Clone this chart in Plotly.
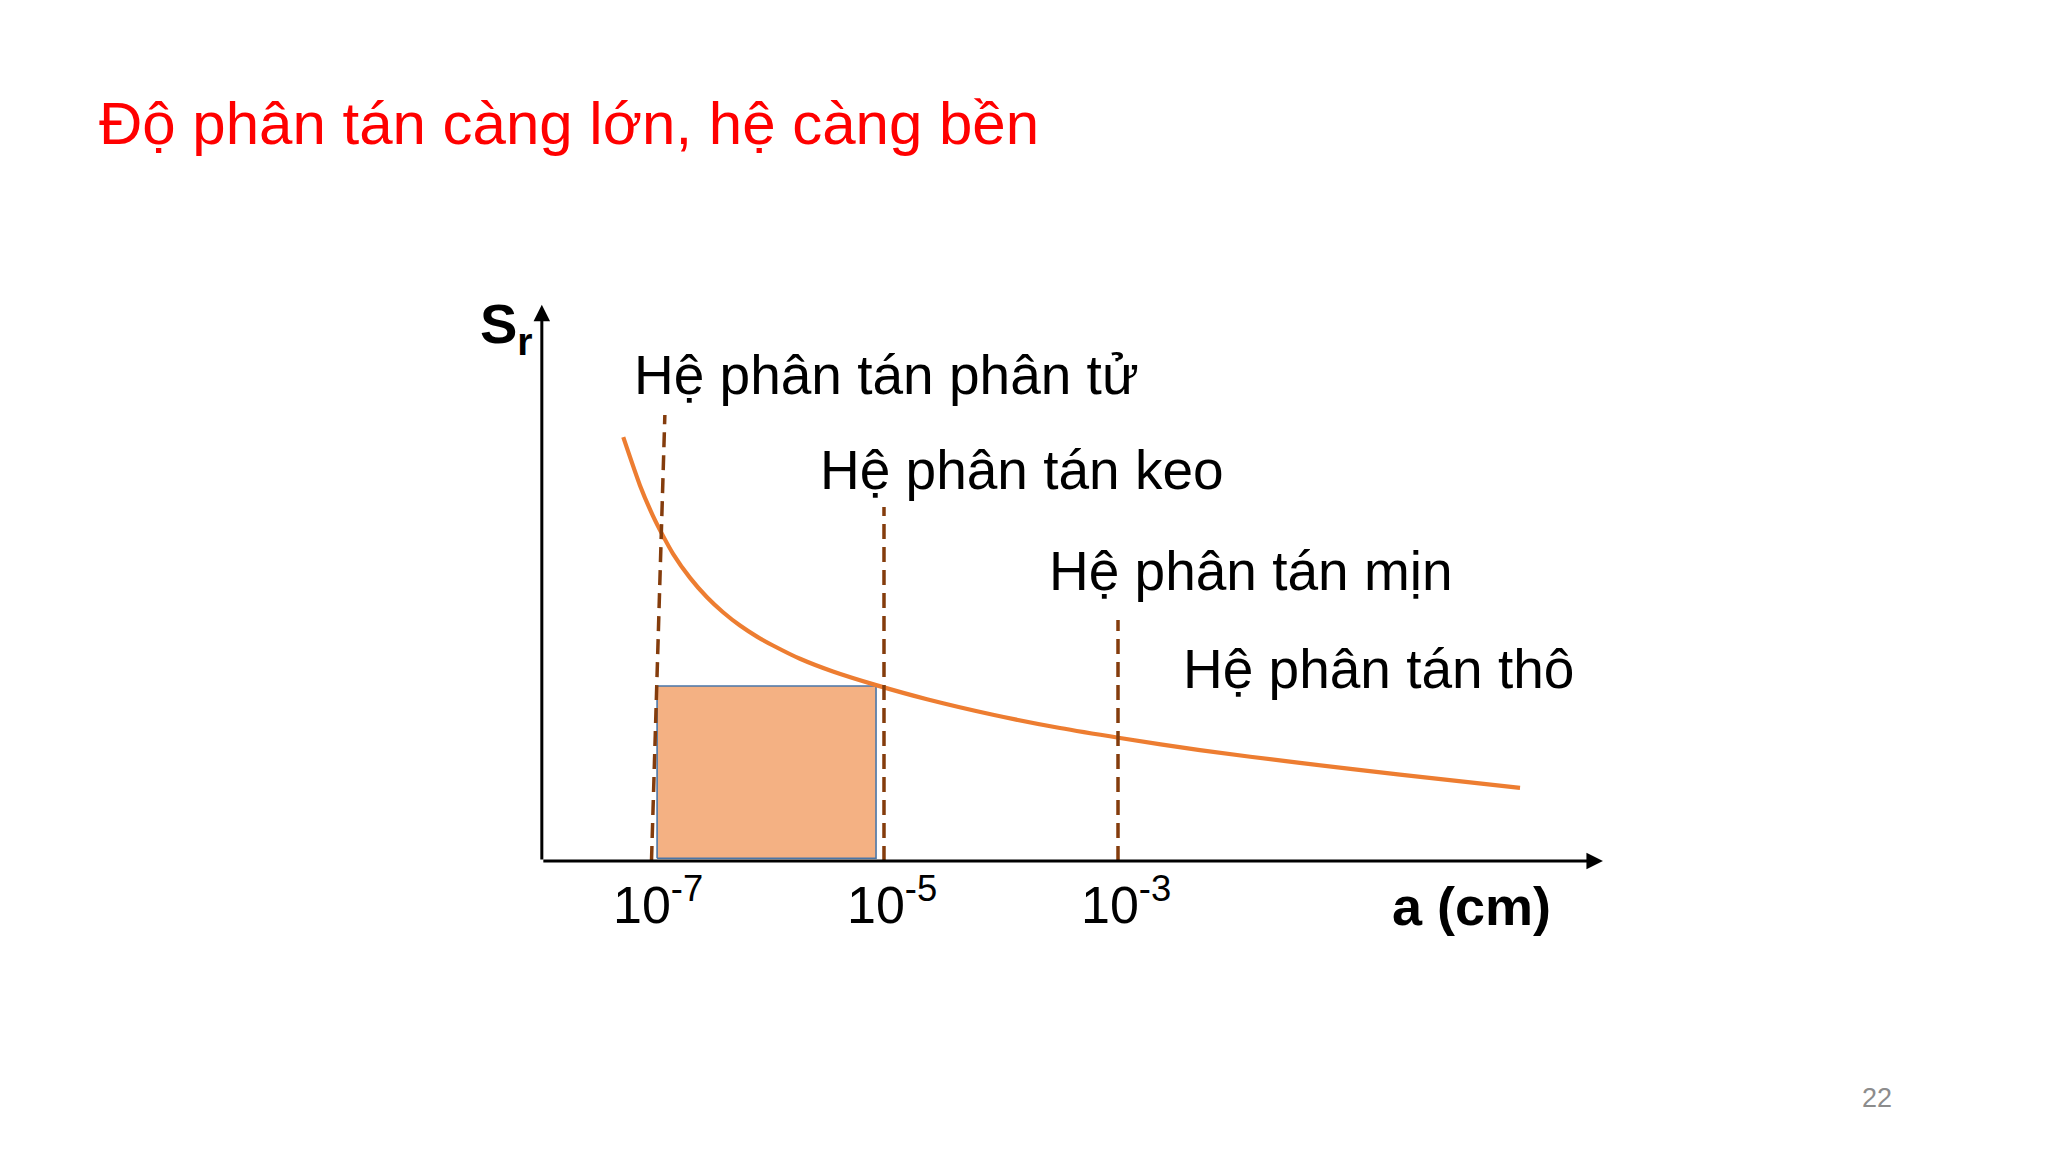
import numpy as np
import plotly.graph_objects as go

# ---------------- data ----------------
title_text = "Độ phân tán càng lớn, hệ càng bền"
page_number = "22"

# curve Sr(a): particle size a in cm, Sr in arbitrary units
curve_a_cm = [5.91e-8, 8.21e-8, 1.06e-7, 1.27e-7, 1.57e-7, 2.20e-7, 3.07e-7,
              4.21e-7, 5.88e-7, 8.21e-7, 1.125e-6, 1.915e-6, 3.66e-6, 8.71e-6,
              2.33e-5, 8.54e-5, 3.19e-4, 1.04e-3, 5.01e-3, 3.59e-2, 0.257, 2.73]
curve_sr = [7.65, 6.78, 6.23, 5.90, 5.55, 5.11, 4.76,
            4.49, 4.25, 4.05, 3.89, 3.65, 3.42, 3.17,
            2.92, 2.64, 2.40, 2.22, 2.00, 1.77, 1.56, 1.32]

# dashed boundaries between dispersion classes
boundary_bottom_a_cm = [1.03e-7, 1.0e-5, 1.0e-3]
boundary_top_a_cm = [1.34e-7, 1.0e-5, 1.0e-3]
boundary_top_sr = [8.05, 6.39, 4.35]

# highlighted (colloid) box
highlight_a_cm = [1.15e-7, 8.55e-6]
highlight_sr = [0.05, 3.16]

# tick labels on the a axis
tick_a_cm = [1e-7, 1e-5, 1e-3]
tick_labels = ["10<sup>-7</sup>", "10<sup>-5</sup>", "10<sup>-3</sup>"]

# region labels: text, left a (cm), Sr
region_labels = ["Hệ phân tán phân tử", "Hệ phân tán keo", "Hệ phân tán mịn", "Hệ phân tán thô"]
region_label_a_cm = [7.0e-8, 2.73e-6, 2.47e-4, 3.45e-3]
region_label_sr = [8.77, 7.06, 5.23, 3.47]

# axes extents
axis_origin_a_cm = 1.19e-8
axis_end_a_cm = 13.96
axis_end_sr = 10.04

# ---------------- figure ----------------
FONT = "Liberation Sans, Arial, sans-serif"
lg = np.log10

fig = go.Figure()

# highlighted box
x0, x1 = lg(highlight_a_cm[0]), lg(highlight_a_cm[1])
y0, y1 = highlight_sr
fig.add_trace(go.Scatter(
    x=[x0, x1, x1, x0, x0], y=[y0, y0, y1, y1, y0],
    mode="lines", fill="toself", fillcolor="#f4b183",
    line=dict(color="#4a76a8", width=1.6), hoverinfo="skip"))

# curve
fig.add_trace(go.Scatter(
    x=lg(curve_a_cm), y=curve_sr, mode="lines",
    line=dict(color="#ed7d31", width=4.2, shape="spline", smoothing=0.6),
    hoverinfo="skip"))

# dashed boundaries
for ab, at, st in zip(boundary_bottom_a_cm, boundary_top_a_cm, boundary_top_sr):
    fig.add_trace(go.Scatter(
        x=[lg(ab), lg(at)], y=[0, st], mode="lines",
        line=dict(color="#843c0c", width=3.5, dash="15px,8px"),
        hoverinfo="skip"))

xo = lg(axis_origin_a_cm)
# axes with arrows
fig.add_annotation(x=lg(axis_end_a_cm), y=0, ax=xo, ay=0, axref="x", ayref="y",
                   xref="x", yref="y", text="", showarrow=True,
                   arrowhead=2, arrowsize=1.1, arrowwidth=3, arrowcolor="#000000")
fig.add_annotation(x=xo, y=axis_end_sr, ax=xo, ay=0, axref="x", ayref="y",
                   xref="x", yref="y", text="", showarrow=True,
                   arrowhead=2, arrowsize=1.1, arrowwidth=3, arrowcolor="#000000")

# tick labels
for a, t in zip(tick_a_cm, tick_labels):
    fig.add_annotation(x=lg(a), y=-0.72, xref="x", yref="y", text=t,
                       showarrow=False, xanchor="center", yanchor="middle", xshift=8,
                       font=dict(family=FONT, size=52, color="#000000"))

# axis titles
fig.add_annotation(x=lg(0.211), y=-0.82, xref="x", yref="y", text="<b>a (cm)</b>",
                   showarrow=False, xanchor="left", yanchor="middle",
                   font=dict(family=FONT, size=54, color="#000000"))
fig.add_annotation(x=lg(3.4e-9), y=9.63, xref="x", yref="y", text="<b>S<sub>r</sub></b>",
                   showarrow=False, xanchor="left", yanchor="middle",
                   font=dict(family=FONT, size=56, color="#000000"))

# region labels
for t, a, s in zip(region_labels, region_label_a_cm, region_label_sr):
    fig.add_annotation(x=lg(a), y=s, xref="x", yref="y", text=t,
                       showarrow=False, xanchor="left", yanchor="middle",
                       font=dict(family=FONT, size=55, color="#000000"))

# title and page number (the page body adds an 8 px offset)
OFF = 8
fig.add_annotation(x=(97 - OFF) / 2048, y=1 - (124 - OFF) / 1152, xref="paper", yref="paper",
                   text=title_text, showarrow=False, xanchor="left", yanchor="middle",
                   font=dict(family=FONT, size=60, color="#ff0000"))
fig.add_annotation(x=(1877 - OFF) / 2048, y=1 - (1098 - OFF) / 1152, xref="paper", yref="paper",
                   text=page_number, showarrow=False, xanchor="center", yanchor="middle",
                   font=dict(family=FONT, size=27, color="#8c8c8c"))

fig.update_layout(
    width=2048, height=1152,
    margin=dict(l=0, r=0, t=0, b=0),
    paper_bgcolor="#ffffff", plot_bgcolor="#ffffff",
    showlegend=False,
    xaxis=dict(range=[-12.487, 5.017], visible=False, fixedrange=True),
    yaxis=dict(range=[-5.397, 15.397], visible=False, fixedrange=True),
)

fig.write_html("out.html")
